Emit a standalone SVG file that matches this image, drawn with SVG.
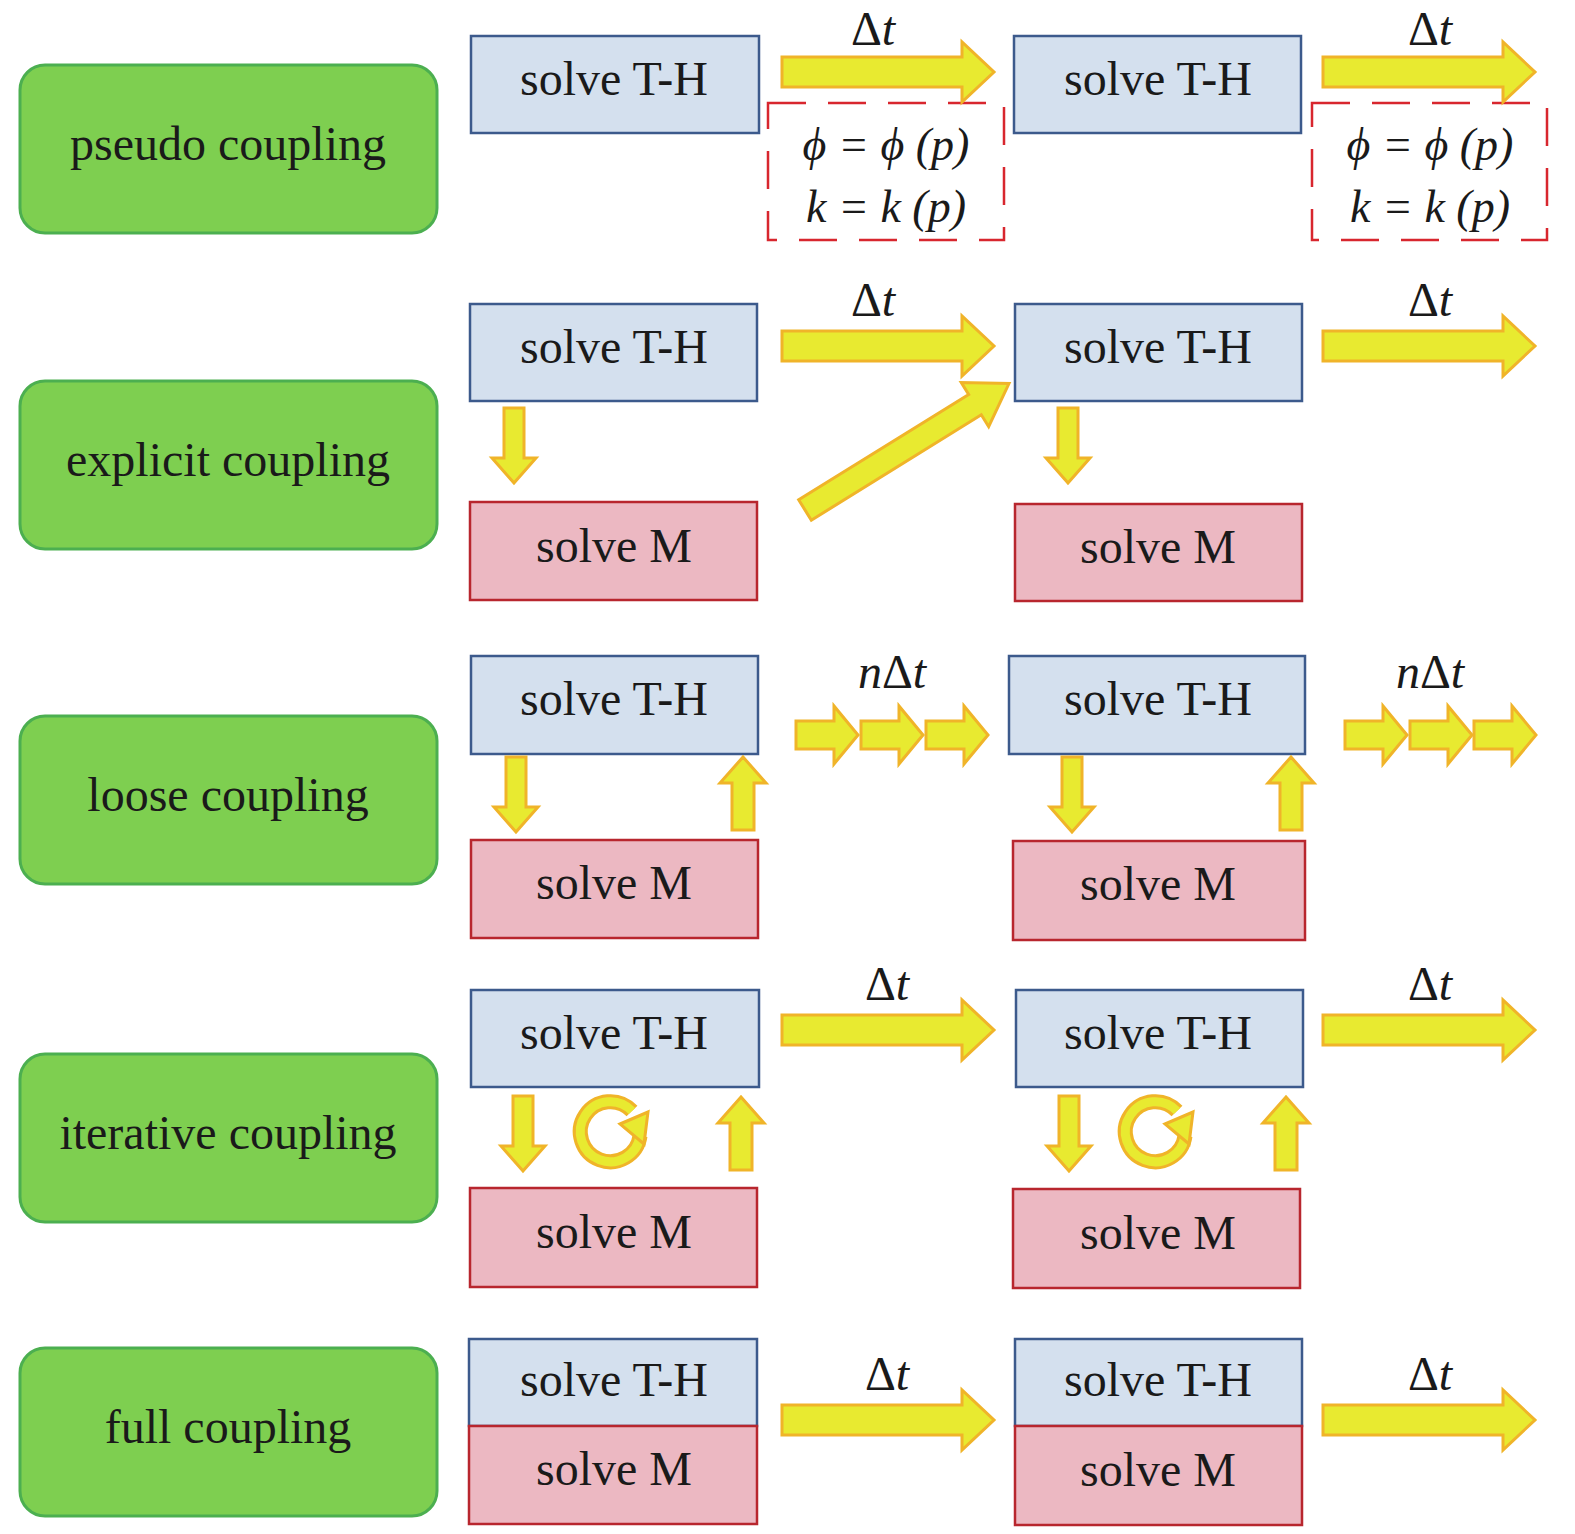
<svg xmlns="http://www.w3.org/2000/svg" width="1575" height="1534" viewBox="0 0 1575 1534">
<style>
.g{fill:#7ecf50;stroke:#4caf50;stroke-width:3}
.th{fill:#d4e0ee;stroke:#3c5a8c;stroke-width:2.5}
.m{fill:#ecb8c2;stroke:#b8262e;stroke-width:2.5}
.ar{fill:#e8ea30;stroke:#f0b429;stroke-width:3;stroke-linejoin:miter}
.t{font-family:"Liberation Serif",serif;font-size:48px;fill:#1a1a1a;text-anchor:middle}
.i{font-family:"Liberation Serif",serif;font-size:46px;font-style:italic;fill:#1a1a1a;text-anchor:middle}
.d{fill:none;stroke:#d8262e;stroke-width:2.5;stroke-dasharray:38,22}
</style>
<defs>
<path id="R" class="ar" d="M0,15 H180 V0 L212,30 L180,60 V45 H0 Z"/>
<path id="r" class="ar" d="M0,15 H38 V0 L62,29 L38,58 V43 H0 Z"/>
<path id="D" class="ar" d="M12,0 H32 V50 H44 L22,75 L0,50 H12 Z"/>
<path id="U" class="ar" d="M23,0 L46,26 H34 V73 H12 V26 H0 Z"/>
<g id="C"><path d="M22,-21 A30,30 0 1 0 30,4" fill="none" stroke="#f0b429" stroke-width="15"/><path d="M22,-21 A30,30 0 1 0 30,4" fill="none" stroke="#e8ea30" stroke-width="9"/><path class="ar" d="M10,-8 L38,-20 L34,12 Z"/></g>
</defs>
<g id="labels">
<rect class="g" x="20" y="65" width="417" height="168" rx="25"/><text class="t" x="228" y="160">pseudo coupling</text>
<rect class="g" x="20" y="381" width="417" height="168" rx="25"/><text class="t" x="228" y="476">explicit coupling</text>
<rect class="g" x="20" y="716" width="417" height="168" rx="25"/><text class="t" x="228" y="811">loose coupling</text>
<rect class="g" x="20" y="1054" width="417" height="168" rx="25"/><text class="t" x="228" y="1149">iterative coupling</text>
<rect class="g" x="20" y="1348" width="417" height="168" rx="25"/><text class="t" x="228" y="1443">full coupling</text>
</g>
<g id="boxes">
<rect class="th" x="471" y="36" width="288" height="97"/><text class="t" x="614" y="95">solve T-H</text>
<rect class="th" x="1014" y="36" width="287" height="97"/><text class="t" x="1158" y="95">solve T-H</text>
<rect class="d" x="768" y="103" width="236" height="137"/><rect class="d" x="1312" y="103" width="235" height="137"/>
<text class="i" x="886" y="160">ϕ = ϕ (p)</text><text class="i" x="886" y="222">k = k (p)</text>
<text class="i" x="1430" y="160">ϕ = ϕ (p)</text><text class="i" x="1430" y="222">k = k (p)</text>

<rect class="th" x="470" y="304" width="287" height="97"/><text class="t" x="614" y="363">solve T-H</text>
<rect class="m" x="470" y="502" width="287" height="98"/><text class="t" x="614" y="562">solve M</text>
<rect class="th" x="1015" y="304" width="287" height="97"/><text class="t" x="1158" y="363">solve T-H</text>
<rect class="m" x="1015" y="504" width="287" height="97"/><text class="t" x="1158" y="563">solve M</text>

<rect class="th" x="471" y="656" width="287" height="98"/><text class="t" x="614" y="715">solve T-H</text>
<rect class="m" x="471" y="840" width="287" height="98"/><text class="t" x="614" y="899">solve M</text>
<rect class="th" x="1009" y="656" width="296" height="98"/><text class="t" x="1158" y="715">solve T-H</text>
<rect class="m" x="1013" y="841" width="292" height="99"/><text class="t" x="1158" y="900">solve M</text>

<rect class="th" x="471" y="990" width="288" height="97"/><text class="t" x="614" y="1049">solve T-H</text>
<rect class="m" x="470" y="1188" width="287" height="99"/><text class="t" x="614" y="1248">solve M</text>
<rect class="th" x="1016" y="990" width="287" height="97"/><text class="t" x="1158" y="1049">solve T-H</text>
<rect class="m" x="1013" y="1189" width="287" height="99"/><text class="t" x="1158" y="1249">solve M</text>

<rect class="th" x="469" y="1339" width="288" height="87"/><text class="t" x="614" y="1396">solve T-H</text>
<rect class="m" x="469" y="1426" width="288" height="98"/><text class="t" x="614" y="1485">solve M</text>
<rect class="th" x="1015" y="1339" width="287" height="87"/><text class="t" x="1158" y="1396">solve T-H</text>
<rect class="m" x="1015" y="1426" width="287" height="99"/><text class="t" x="1158" y="1486">solve M</text>
</g>
<g id="connectors">
<use href="#R" x="782" y="42"/><use href="#R" x="1323" y="42"/>
<use href="#R" x="782" y="316"/><use href="#R" x="1323" y="316"/>
<use href="#R" x="782" y="1000"/><use href="#R" x="1323" y="1000"/>
<use href="#R" x="782" y="1390"/><use href="#R" x="1323" y="1390"/>
<path class="ar" transform="translate(805,510) rotate(-31.8)" d="M0,-12 H200 V-26 L240,0 L200,26 V12 H0 Z"/>
<use href="#D" x="492" y="408"/><use href="#D" x="1046" y="408"/>
<use href="#D" x="494" y="757"/><use href="#D" x="1050" y="757"/>
<use href="#U" x="720" y="757"/><use href="#U" x="1268" y="757"/>
<use href="#D" x="501" y="1096"/><use href="#D" x="1047" y="1096"/>
<use href="#U" x="718" y="1097"/><use href="#U" x="1263" y="1097"/>
<use href="#C" x="610" y="1132"/><use href="#C" x="1155" y="1132"/>
<use href="#r" x="796" y="706"/><use href="#r" x="861" y="706"/><use href="#r" x="926" y="706"/>
<use href="#r" x="1345" y="706"/><use href="#r" x="1410" y="706"/><use href="#r" x="1474" y="706"/>
<text class="t" x="873" y="45">Δ<tspan font-style="italic">t</tspan></text>
<text class="t" x="1430" y="45">Δ<tspan font-style="italic">t</tspan></text>
<text class="t" x="873" y="316">Δ<tspan font-style="italic">t</tspan></text>
<text class="t" x="1430" y="316">Δ<tspan font-style="italic">t</tspan></text>
<text class="t" x="892" y="688"><tspan font-style="italic">n</tspan>Δ<tspan font-style="italic">t</tspan></text>
<text class="t" x="1430" y="688"><tspan font-style="italic">n</tspan>Δ<tspan font-style="italic">t</tspan></text>
<text class="t" x="887" y="1000">Δ<tspan font-style="italic">t</tspan></text>
<text class="t" x="1430" y="1000">Δ<tspan font-style="italic">t</tspan></text>
<text class="t" x="887" y="1390">Δ<tspan font-style="italic">t</tspan></text>
<text class="t" x="1430" y="1390">Δ<tspan font-style="italic">t</tspan></text>
</g>
</svg>
